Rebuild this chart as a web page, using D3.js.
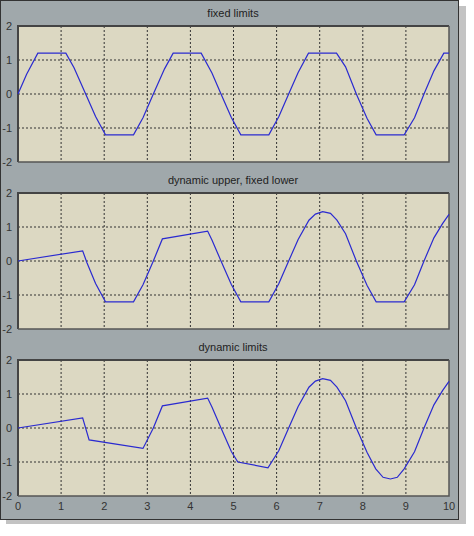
<!DOCTYPE html>
<html><head><meta charset="utf-8">
<script src="https://cdn.jsdelivr.net/npm/d3@7"></script>
<style>body{margin:0;background:#fff;font-family:"Liberation Sans",Arial,sans-serif}</style>
</head><body>
<script>
const titles = ['fixed limits', 'dynamic upper, fixed lower', 'dynamic limits'];
const xTicks = [0, 1, 2, 3, 4, 5, 6, 7, 8, 9, 10];
const yTicks = [-2, -1, 0, 1, 2];

const fixedX = [0, 0.2, 0.46, 1.11, 1.3, 1.57, 1.8, 2.03, 2.68, 2.9, 3.14, 3.4, 3.6, 4.25, 4.5, 4.71, 4.95, 5.17, 5.82, 6.05, 6.28, 6.5, 6.74, 7.39, 7.6, 7.85, 8.1, 8.31, 8.96, 9.2, 9.42, 9.65, 9.88, 10];
const fixedY = [0, 0.58, 1.2, 1.2, 0.77, 0, -0.66, -1.2, -1.2, -0.7, 0, 0.74, 1.2, 1.2, 0.62, 0, -0.69, -1.2, -1.2, -0.67, 0, 0.63, 1.2, 1.2, 0.8, 0, -0.72, -1.2, -1.2, -0.7, 0, 0.68, 1.2, 1.2];

const upperX = [0, 1.5, 1.6, 1.8, 2.03, 2.68, 2.9, 3.14, 3.35, 4.4, 4.5, 4.71, 4.95, 5.17, 5.82, 6.05, 6.28, 6.5, 6.75, 6.9, 7.07, 7.25, 7.4, 7.6, 7.85, 8.1, 8.31, 8.96, 9.2, 9.42, 9.65, 9.85, 10];
const upperY = [0, 0.3, -0.05, -0.66, -1.2, -1.2, -0.7, 0, 0.65, 0.88, 0.62, 0, -0.69, -1.2, -1.2, -0.67, 0, 0.63, 1.2, 1.38, 1.45, 1.4, 1.2, 0.8, 0, -0.72, -1.2, -1.2, -0.7, 0, 0.68, 1.1, 1.37];

const dynX = [0, 1.5, 1.65, 2.9, 3.14, 3.35, 4.4, 4.5, 4.71, 4.95, 5.1, 5.8, 6.05, 6.28, 6.5, 6.75, 6.9, 7.07, 7.25, 7.4, 7.6, 7.85, 8.1, 8.3, 8.47, 8.64, 8.8, 8.96, 9.2, 9.42, 9.65, 9.85, 10];
const dynY = [0, 0.3, -0.35, -0.6, 0, 0.65, 0.88, 0.62, 0, -0.69, -1.0, -1.17, -0.67, 0, 0.63, 1.2, 1.38, 1.45, 1.4, 1.2, 0.8, 0, -0.72, -1.2, -1.45, -1.5, -1.45, -1.2, -0.7, 0, 0.68, 1.1, 1.37];

const series = [[fixedX, fixedY], [upperX, upperY], [dynX, dynY]];
const panelTops = [26, 193, 360];
const panelH = 136;

const svg = d3.select('body').append('svg').attr('width', 474).attr('height', 536);

// drop shadow + window
svg.append('rect').attr('x', 6).attr('y', 6).attr('width', 460).attr('height', 518).attr('fill', '#888').attr('opacity', 0.5);
svg.append('rect').attr('x', 0.5).attr('y', 0.5).attr('width', 458).attr('height', 519)
  .attr('fill', '#a0a8ab').attr('stroke', '#333');

const xScale = d3.scaleLinear().domain([0, 10]).range([18, 449]);

series.forEach((s, i) => {
  const top = panelTops[i];
  const yScale = d3.scaleLinear().domain([-2, 2]).range([top + panelH, top]);
  const g = svg.append('g');

  g.append('rect').attr('x', 18).attr('y', top).attr('width', 431).attr('height', panelH)
    .attr('fill', '#dcd8c2');

  g.append('text').attr('x', 233).attr('y', top - 9).attr('text-anchor', 'middle')
    .style('font-size', '11px').attr('fill', '#222').text(titles[i]);

  g.selectAll('.vg').data(xTicks.slice(1, -1)).enter().append('line')
    .attr('x1', d => xScale(d)).attr('x2', d => xScale(d))
    .attr('y1', top).attr('y2', top + panelH)
    .attr('stroke', '#333').attr('stroke-dasharray', '2,2');
  g.selectAll('.hg').data(yTicks.slice(1, -1)).enter().append('line')
    .attr('x1', 18).attr('x2', 449)
    .attr('y1', d => yScale(d)).attr('y2', d => yScale(d))
    .attr('stroke', '#333').attr('stroke-dasharray', '2,2');

  // sunken frame
  g.append('path').attr('d', `M18,${top + panelH}V${top}H449`).attr('fill', 'none').attr('stroke', '#444').attr('stroke-width', 2);
  g.append('path').attr('d', `M449,${top}V${top + panelH}H18`).attr('fill', 'none').attr('stroke', '#555').attr('stroke-width', 1.5);

  g.selectAll('.yl').data(yTicks).enter().append('text')
    .attr('x', 12).attr('y', d => yScale(d) + 4).attr('text-anchor', 'end')
    .style('font-size', '11px').attr('fill', '#333').text(d => d);

  const pts = s[0].map((x, k) => [x, s[1][k]]);
  g.append('path').attr('d', d3.line().x(d => xScale(d[0])).y(d => yScale(d[1]))(pts))
    .attr('fill', 'none').attr('stroke', '#2a2ad0').attr('stroke-width', 1.2);
});

svg.selectAll('.xl').data(xTicks).enter().append('text')
  .attr('x', d => xScale(d)).attr('y', 510).attr('text-anchor', 'middle')
  .style('font-size', '11px').attr('fill', '#333').text(d => d);
</script>
</body></html>
